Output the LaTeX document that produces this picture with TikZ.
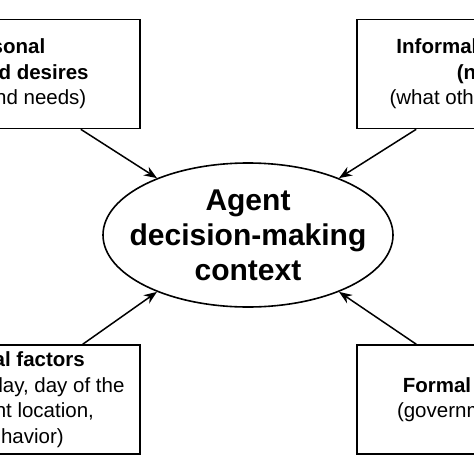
\documentclass[tikz,border=0pt]{standalone}
\usepackage{fontspec}
\setmainfont{Liberation Sans}
\usetikzlibrary{arrows.meta,shapes.geometric}

\tikzset{
    factorbox/.style={draw,line width=1.6pt,minimum width=276pt,minimum height=109pt,inner sep=0pt,align=center,font=\fontsize{20.5}{25.5}\selectfont},
    ctxshape/.style={ellipse,draw,line width=1.6pt,minimum width=290pt,minimum height=144pt,inner sep=0pt},
    ctxtext/.style={align=center,inner sep=0pt,font=\fontsize{30}{35}\selectfont\bfseries},
    feed/.style={line width=1.5pt,-{Stealth[length=13pt,width=10pt]}},
}

\begin{document}
\begin{tikzpicture}[x=1pt,y=-1pt]
    \useasboundingbox (0,0) rectangle (474,474);
    \clip (0,0) rectangle (474,474);
    %Kontext
    \node[ctxshape] (ctx) at (248,235) {};
    \node[ctxtext] (ctxlabel) at (ctx) {Agent\\decision-making\\context};
    
    %Faktoren
    \node[factorbox] (tl) at (2,74) {\textbf{Personal}\\\textbf{goals and desires}\\(wants and needs)};
    \node[factorbox] (tr) at (495,74) {\textbf{Informal institutions}\\\textbf{(norms)}\\(what others are doing)};
    \node[factorbox,minimum width=238pt] (bl) at (21,399.5) {\textbf{Local factors}\\(time of day, day of the\\current location,\\behavior)};
    \node[factorbox] (br) at (495,399.5) {\textbf{Formal institutions}\\(government policies)};
    
    \draw[feed] ([xshift=-60pt]tl.south east) -- (ctx.148);
    \draw[feed] ([xshift=60pt]tr.south west) -- (ctx.32);
    \draw[feed] ([xshift=-58pt]bl.north east) -- (ctx.212);
    \draw[feed] ([xshift=60pt]br.north west) -- (ctx.328);
\end{tikzpicture}
\end{document}
